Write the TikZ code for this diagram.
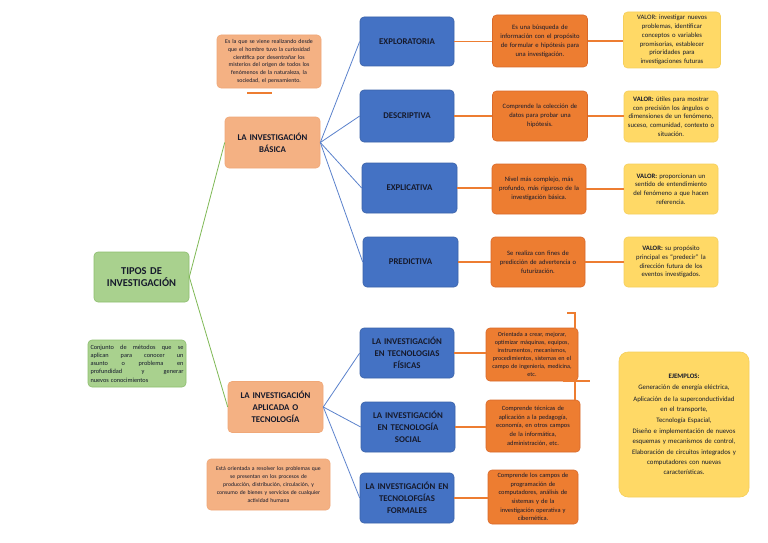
\documentclass[tikz,border=0pt]{standalone}
\usepackage{fontspec}
\setmainfont{Carlito}
\definecolor{bluef}{HTML}{4472C4}
\definecolor{blued}{HTML}{3A62A8}
\definecolor{salf}{HTML}{F4B183}
\definecolor{sald}{HTML}{F0A878}
\definecolor{orgf}{HTML}{ED7D31}
\definecolor{orgd}{HTML}{D9692A}
\definecolor{yelf}{HTML}{FFD966}
\definecolor{yeld}{HTML}{F5CF5C}
\definecolor{grnf}{HTML}{A9D18E}
\definecolor{grnd}{HTML}{8DBE6E}
\definecolor{grnl}{HTML}{7FB955}
\definecolor{bluel}{HTML}{5B82CC}
\definecolor{txtd}{HTML}{161A2C}
\tikzset{
  box/.style={rounded corners=4pt, inner sep=1pt, align=center, text=txtd, line width=0.6pt},
  bluebox/.style={box, fill=bluef, draw=blued, minimum width=94pt, minimum height=50pt, text width=92pt,
    font=\bfseries\fontsize{8.8}{12}\selectfont},
  salbox/.style={box, fill=salf, draw=sald, minimum width=95pt, minimum height=51pt, text width=93pt,
    font=\bfseries\fontsize{8.8}{12}\selectfont},
  saldesc/.style={box, fill=salf, draw=sald, font=\fontsize{5.9}{7.7}\selectfont},
  orgbox/.style={box, fill=orgf, draw=orgd, minimum width=94pt, minimum height=50pt, text width=92pt,
    font=\fontsize{6.6}{9}\selectfont},
  yelbox/.style={box, fill=yelf, draw=yeld, minimum width=94pt, minimum height=50pt, text width=92pt,
    font=\fontsize{6.7}{8.7}\selectfont},
  grnbox/.style={box, fill=grnf, draw=grnd},
  bline/.style={draw=bluel, line width=0.8pt},
  gline/.style={draw=grnl, line width=0.8pt},
  oline/.style={draw=orgf, color=orgf, line width=1.1pt}
}
\begin{document}
\begin{tikzpicture}[x=1pt,y=-1pt]
\useasboundingbox[fill=white] (0,0) rectangle (768,543);

% left column
\node[grnbox, minimum width=95pt, minimum height=50pt, text width=93pt,
  font=\bfseries\fontsize{10.5}{12.5}\selectfont] (tipos) at (141.5,277) {TIPOS DE\\INVESTIGACIÓN};
\node[grnbox, minimum width=98pt, minimum height=47pt, text width=93pt, align=left,
  font=\fontsize{6.3}{8.2}\selectfont] (gdesc) at (137,363.5)
  {Conjunto\hfill de\hfill métodos\hfill que\hfill se\\aplican\hfill para\hfill conocer\hfill un\\asunto\hfill o\hfill problema\hfill en\\profundidad\hfill y\hfill generar\\nuevos conocimientos};

% second column
\node[saldesc, minimum width=104pt, minimum height=53pt, text width=102pt] (tdesc) at (269,61.5)
  {Es la que se viene realizando desde\\que el hombre tuvo la curiosidad\\científica por desentrañar los\\misterios del origen de todos los\\fenómenos de la naturaleza, la\\sociedad, el pensamiento.};
\node[salbox] (basica) at (272.5,142.5) {LA INVESTIGACIÓN\\BÁSICA};
\node[salbox] (aplicada) at (275.5,407) {LA INVESTIGACIÓN\\APLICADA O\\TECNOLOGÍA};
\node[saldesc, minimum width=123pt, minimum height=51pt, text width=121pt,
  font=\fontsize{5.7}{8}\selectfont] (bdesc) at (268.5,484.5)
  {Está orientada a resolver los problemas que\\se presentan en los procesos de\\producción, distribución, circulación, y\\consumo de bienes y servicios de cualquier\\actividad humana};

% blue column
\node[bluebox, minimum height=49pt] (explo) at (407,41.5) {EXPLORATORIA};
\node[bluebox, minimum height=52pt] (descr) at (407,116) {DESCRIPTIVA};
\node[bluebox, minimum width=95pt] (expli) at (409.5,188) {EXPLICATIVA};
\node[bluebox, minimum width=95pt] (pred) at (410.5,262) {PREDICTIVA};
\node[bluebox] (fis) at (407,353) {LA INVESTIGACIÓN\\EN TECNOLOGIAS\\FÍSICAS};
\node[bluebox] (soc) at (408,427) {LA INVESTIGACIÓN\\EN TECNOLOGÍA\\SOCIAL};
\node[bluebox] (form) at (407,498) {LA INVESTIGACIÓN EN\\TECNOLOFGÍAS\\FORMALES};

% orange column
\node[orgbox, minimum width=95pt, minimum height=52pt] (o1) at (540,41)
  {Es una búsqueda de\\información con el propósito\\de formular e hipótesis para\\una investigación.};
\node[orgbox, minimum width=95pt] (o2) at (540,116)
  {Comprende la colección de\\datos para probar una\\hipótesis.};
\node[orgbox] (o3) at (539,189)
  {Nivel más complejo, más\\profundo, más riguroso de la\\investigación básica.};
\node[orgbox] (o4) at (538,262)
  {Se realiza con fines de\\predicción de advertencia o\\futurización.};
\node[orgbox, minimum width=92pt, minimum height=53pt, text width=90pt,
  font=\fontsize{6.1}{8}\selectfont] (o5) at (532,354.5)
  {Orientada a crear, mejorar,\\optimizar máquinas, equipos,\\instrumentos, mecanismos,\\procedimientos, sistemas en el\\campo de ingeniería, medicina,\\etc.};
\node[orgbox, minimum height=52pt, font=\fontsize{6.4}{8.8}\selectfont] (o6) at (533,426)
  {Comprende técnicas de\\aplicación a la pedagogía,\\economía, en otros campos\\de la informática,\\administración, etc.};
\node[orgbox, minimum width=90pt, minimum height=54pt, text width=88pt,
  font=\fontsize{6.4}{8.6}\selectfont] (o7) at (533,497)
  {Comprende los campos de\\programación de\\computadores, análisis de\\sistemas y de la\\investigación operativa y\\cibernética.};

% yellow column
\node[yelbox, minimum width=97pt, minimum height=56pt, text width=95pt] (y1) at (672,40)
  {VALOR: investigar nuevos\\problemas, identificar\\conceptos o variables\\promisorias, establecer\\prioridades para\\investigaciones futuras};
\node[yelbox, minimum height=51pt] (y2) at (671,116.5)
  {\textbf{VALOR:} útiles para mostrar\\con precisión los ángulos o\\dimensiones de un fenómeno,\\suceso, comunidad, contexto o\\situación.};
\node[yelbox] (y3) at (671,189)
  {\textbf{VALOR:} proporcionan un\\sentido de entendimiento\\del fenómeno a que hacen\\referencia.};
\node[yelbox] (y4) at (671,262)
  {\textbf{VALOR:} su propósito\\principal es “predecir” la\\dirección futura de los\\eventos investigados.};
\node[yelbox, rounded corners=9pt, minimum width=130pt, minimum height=145pt, text width=128pt,
  font=\fontsize{6.8}{10}\selectfont] (ej) at (684,424.5)
  {\textbf{EJEMPLOS:}\\[1.3pt]Generación de energía eléctrica,\\[1.3pt]Aplicación de la superconductividad\\en el transporte,\\[1.3pt]Tecnología Espacial,\\[1.3pt]Diseño e implementación de nuevos\\esquemas y mecanismos de control,\\[1.3pt]Elaboración de circuitos integrados y\\computadores con nuevas\\características.};

% green connectors
\draw[gline] (tipos.east) -- (basica.west);
\draw[gline] (tipos.east) -- (aplicada.west);

% blue connectors
\foreach \t in {explo,descr,expli,pred} \draw[bline] (basica.east) -- (\t.west);
\foreach \t in {fis,soc,form} \draw[bline] (aplicada.east) -- (\t.west);

% orange connectors
\draw[oline] (explo.east) -- (explo.east -| o1.west);
\draw[oline] (descr.east) -- (descr.east -| o2.west);
\draw[oline] (expli.east) -- (expli.east -| o3.west);
\draw[oline] (pred.east) -- (pred.east -| o4.west);
\draw[oline] (o1.east) -- (o1.east -| y1.west);
\draw[oline] (o2.east) -- (o2.east -| y2.west);
\draw[oline] (o3.east) -- (o3.east -| y3.west);
\draw[oline] (o4.east) -- (o4.east -| y4.west);
\draw[oline] (fis.east) -- (fis.east -| o5.west);
\draw[oline] (soc.east) -- (soc.east -| o6.west);
\draw[oline] (form.east) -- (form.east -| o7.west);

% stray orange strokes
\coordinate (s1) at (567,313);
\coordinate (s2) at (575,313);
\draw[oline] (s1) -- (s2) -- (s2 |- o5.north);
\coordinate (s3) at (563,381);
\coordinate (s4) at (590,381);
\draw[oline] (s3) -- (s4);
\coordinate (s5) at (575,381);
\draw[oline] (s5) -- (s5 |- o6.north);
\coordinate (u1) at (247,93);
\coordinate (u2) at (272,93);
\draw[oline] (u1) -- (u2);
\end{tikzpicture}
\end{document}
